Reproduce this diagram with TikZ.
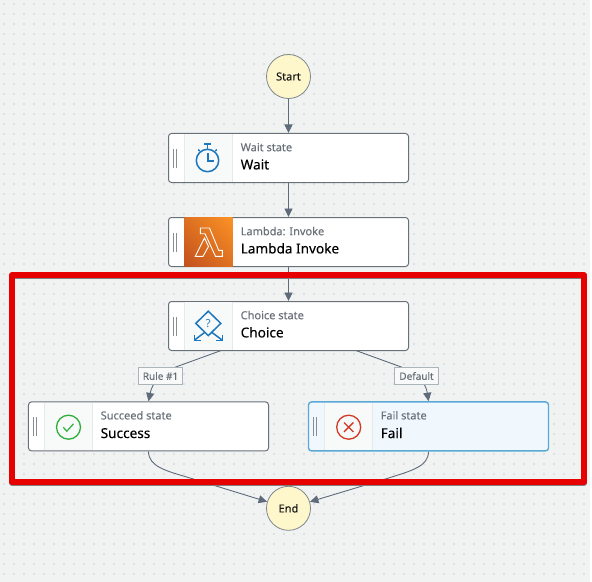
\documentclass[tikz,border=0pt]{standalone}
\usepackage{fontspec}
\setmainfont{Noto Sans}
\newfontfamily\medfont[FakeBold=0.15]{Noto Sans}
\newfontfamily\lightmed[FakeBold=0.08]{Noto Sans}
\usetikzlibrary{arrows.meta,backgrounds,calc,shadings}
\definecolor{canvas}{HTML}{F1F3F3}
\definecolor{griddot}{HTML}{DDE0E0}
\definecolor{edgecol}{HTML}{5F6B7A}
\definecolor{subtext}{HTML}{687078}
\definecolor{panelbg}{HTML}{F8F9F9}
\definecolor{panelsep}{HTML}{E6E9EA}
\definecolor{iconblue}{HTML}{1B78BE}
\definecolor{failborder}{HTML}{5AA8D6}
\definecolor{failfill}{HTML}{F0F8FE}
\definecolor{okgreen}{HTML}{2FAE3A}
\definecolor{badred}{HTML}{D13A22}
\definecolor{startfill}{HTML}{FFF7CC}
\definecolor{labelborder}{HTML}{A9B5BA}
\definecolor{redframe}{HTML}{E60000}
\definecolor{lamdark}{HTML}{C2501E}
\definecolor{lamlight}{HTML}{FB9225}
\definecolor{lammid}{HTML}{DE7121}
\tikzset{
  x=1bp,y=-1bp,
  statebox/.style={draw=subtext,line width=1bp,fill=white,rounded corners=3bp,minimum width=240bp,minimum height=49bp,inner sep=0pt},
  failbox/.style={statebox,draw=failborder,line width=1.4bp,fill=failfill},
  terminal/.style={circle,draw=subtext!85,line width=0.8bp,fill=startfill,minimum size=44bp,inner sep=0pt,font=\medfont\fontsize{11bp}{13bp}\selectfont,text=black!90},
  kind/.style={anchor=base west,inner sep=0pt,text=subtext,font=\lightmed\fontsize{11bp}{13bp}\selectfont},
  title/.style={anchor=base west,inner sep=0pt,text=black,font=\medfont\fontsize{13.6bp}{16bp}\selectfont},
  rulelabel/.style={draw=labelborder,line width=1bp,fill=panelbg,text=subtext,inner sep=0pt,minimum width=44bp,minimum height=17bp,font=\lightmed\fontsize{10bp}{12bp}\selectfont},
  edge/.style={draw=edgecol,line width=0.9bp,-{Triangle[length=8.5bp,width=8bp]}},
  grip/.style={draw=subtext!80,line width=0.7bp},
  sepline/.style={draw=panelsep,line width=1.6bp},
  blueicon/.style={draw=iconblue,line width=1.5bp},
}
\newcommand{\statedecor}[2]{% left x, top y
  \fill[panelbg] (#1+16,#2+0.6) rectangle (#1+64,#2+48.4);
  \draw[sepline] (#1+16,#2+0.6) -- (#1+16,#2+48.4);
  \draw[sepline] (#1+64,#2+0.6) -- (#1+64,#2+48.4);
  \draw[grip] (#1+4.8,#2+15.5) -- (#1+4.8,#2+34.5);
  \draw[grip] (#1+7.8,#2+15.5) -- (#1+7.8,#2+34.5);
}
\begin{document}
\begin{tikzpicture}
\useasboundingbox (0,0) rectangle (592,582);
\begin{pgfonlayer}{background}
  \fill[white] (0,0) rectangle (592,582);
  \fill[canvas] (0,0) rectangle (590,582);
  \foreach \i in {0,...,58}{\foreach \j in {0,...,57}{
    \fill[griddot] (3+\i*10,3+\j*10) rectangle ++(2,2);
  }}
\end{pgfonlayer}

% nodes
\node[terminal] (start) at (288.5,76.5) {Start};
\node[statebox] (wait) at (288.5,158) {};
\node[statebox] (lambda) at (288.5,242) {};
\node[statebox] (choice) at (288.5,326) {};
\node[statebox] (success) at (148.5,426.4) {};
\node[failbox] (fail) at (428.5,426.4) {};
\node[terminal] (endnode) at (288.5,508.3) {End};

% state decorations
\statedecor{168.5}{133.5}
\statedecor{168.5}{217.5}
\statedecor{168.5}{301.5}
\statedecor{28.5}{401.9}
\statedecor{308.5}{401.9}

% text
\node[kind] (t1a) at (240.5,151.2) {Wait state};
\node[title] (t1b) at (240.5,169.4) {Wait};
\node[kind] (t2a) at (240.5,235.2) {Lambda: Invoke};
\node[title] (t2b) at (240.5,253.4) {Lambda Invoke};
\node[kind] (t3a) at (240.5,319.2) {Choice state};
\node[title] (t3b) at (240.5,337.4) {Choice};
\node[kind] (t4a) at (100.5,419.4) {Succeed state};
\node[title] (t4b) at (100.5,438) {Success};
\node[kind] (t5a) at (380.5,419.4) {Fail state};
\node[title] (t5b) at (380.5,438) {Fail};

% wait icon
\draw[blueicon] (207.5,160.5) circle (11.2);
\draw[blueicon] (207.5,149.2) -- (207.5,145);
\draw[blueicon] (204.2,144) -- (210.8,144);
\draw[blueicon,line cap=round] (199.3,150.8) -- (198.6,149.8);
\draw[blueicon,line cap=round] (215.7,150.8) -- (216.4,149.8);
\draw[blueicon] (208,153.3) -- (208,161.2) -- (213.8,161.2);

% lambda icon
\shade[lower left=lamdark,upper right=lamlight,lower right=lammid,upper left=lammid] (184.5,217.8) rectangle (232.5,266.2);
\draw[white,line width=0.9bp,line join=miter] (200.3,228) -- (209.5,228) -- (218.7,250.3) -- (222.3,250.3) -- (222.3,256.3) -- (215.5,256.3) -- (205,233.7) -- (200.3,233.7) -- cycle;
\draw[white,line width=0.9bp,line join=miter] (195.3,256.3) -- (204.5,238) -- (208.5,246.5) -- (203,256.3) -- cycle;

% choice icon
\draw[blueicon,line join=miter] (208.3,311.2) -- (220.8,323.4) -- (208.3,335.6) -- (195.8,323.4) -- cycle;
\node[inner sep=0pt,text=iconblue,font=\fontsize{11bp}{13bp}\bfseries\selectfont] (qmark) at (208.3,323.6) {?};
\draw[blueicon] (204.8,332.3) -- (194.6,340);
\draw[blueicon] (194.3,334.8) -- (194.3,340.4) -- (200.6,340.4);
\draw[blueicon] (211.8,332.3) -- (222,340);
\draw[blueicon] (222.3,334.8) -- (222.3,340.4) -- (216,340.4);

% check icon
\draw[draw=okgreen,line width=1.3bp] (68.5,427.2) circle (12);
\draw[draw=okgreen,line width=1.2bp] (63.3,427.3) -- (66.8,431.2) -- (73.5,423.8);

% fail icon
\draw[draw=badred,line width=1.3bp] (348.7,427.2) circle (12);
\draw[draw=badred,line width=1.3bp] (344,422.5) -- (353.4,431.9);
\draw[draw=badred,line width=1.3bp] (353.4,422.5) -- (344,431.9);

% labels
\node[rulelabel] (rule) at (160.5,376) {Rule \#1};
\node[rulelabel] (default) at (416.5,376) {Default};

% connectors
\coordinate (bendA) at (173,368);
\coordinate (bendB) at (404,368);
\coordinate (mergeA) at (190,478);
\coordinate (mergeB) at (388.7,478);
\begin{pgfonlayer}{background}
  \draw[edge] (start) -- (wait);
  \draw[edge] (wait) -- (lambda);
  \draw[edge] (lambda) -- (choice);
  \draw[edge] (choice.center) -- (bendA) .. controls (160,373) and (152,384) .. (success.north);
  \draw[edge] (choice.center) -- (bendB) .. controls (418,373) and (426,384) .. (fail.north);
  \draw[edge] (success.south) .. controls (148.5,467) and (167,471) .. (mergeA) -- (endnode);
  \draw[edge] (fail.south) .. controls (428.5,467) and (410,471) .. (mergeB) -- (endnode);
\end{pgfonlayer}

% red highlight frame
\draw[draw=black!50,line width=6bp,line join=round] (12.3,275.7) rectangle (584.3,482.7);
\draw[draw=redframe,line width=6bp,line join=round] (12,275) rectangle (584,482);
\end{tikzpicture}
\end{document}
